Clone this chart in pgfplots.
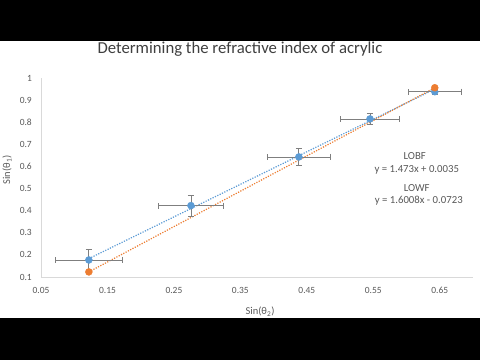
\documentclass[border=0pt]{standalone}
\usepackage{fontspec}
\setmainfont{Carlito}
\usepackage{pgfplots}
\pgfplotsset{compat=1.18}
\definecolor{txt}{HTML}{595959}
\definecolor{ttl}{HTML}{404040}
\definecolor{axl}{HTML}{D9D9D9}
\definecolor{blu}{HTML}{5B9BD5}
\definecolor{org}{HTML}{ED7D31}
\definecolor{errc}{HTML}{7F7F7F}
\begin{document}
\begin{tikzpicture}
\useasboundingbox (-41bp,-83bp) rectangle (439bp,277bp);
\fill[black] (-41bp,236bp) rectangle (439bp,277bp);
\fill[white] (-41bp,-41bp) rectangle (439bp,236bp);
\fill[black] (-41bp,-83bp) rectangle (439bp,-41bp);
\begin{axis}[
  at={(0pt,0pt)}, anchor=south west,
  scale only axis, width=432bp, height=199bp,
  xmin=0.05, xmax=0.70, ymin=0.1, ymax=1.0,
  axis x line*=bottom, axis y line*=left,
  axis line style={draw=axl, line width=0.75bp},
  major tick length=0pt,
  xtick={0.05,0.15,0.25,0.35,0.45,0.55,0.65},
  xticklabels={0.05,0.15,0.25,0.35,0.45,0.55,0.65},
  ytick={0.1,0.2,0.3,0.4,0.5,0.6,0.7,0.8,0.9,1},
  yticklabels={0.1,0.2,0.3,0.4,0.5,0.6,0.7,0.8,0.9,1},
  /pgf/number format/assume math mode=true,
  tick label style={font=\fontsize{9.5}{11}\selectfont, text=txt, inner sep=0pt},
  xticklabel style={anchor=north, yshift=-10bp},
  yticklabel style={anchor=east, xshift=-9bp},
  title={Determining the refractive index of acrylic},
  title style={font=\fontsize{16.8}{19}\selectfont, text=ttl, anchor=center, at={(axis description cs:0.4606,1.1156)}},
  xlabel={Sin(θ\textsubscript{2})},
  xlabel style={font=\fontsize{10.5}{12}\selectfont, text=txt, anchor=center, at={(axis description cs:0.507,-0.174)}},
  ylabel={Sin(θ\textsubscript{1})},
  ylabel style={font=\fontsize{10.5}{12}\selectfont, text=txt, anchor=center, at={(axis description cs:-0.0787,0.538)}},
  clip=false,
]
% trendline (LOBF) of blue series
\addplot[blu, line width=1.2bp, dash pattern=on 1.2bp off 1.4bp] coordinates {(0.122,0.1832) (0.6425,0.9499)};
% worst fit line (LOWF)
\addplot[org, line width=1.2bp, dash pattern=on 1.2bp off 1.4bp] coordinates {(0.122,0.123) (0.6425,0.956)};
% blue data with error bars
\addplot[only marks, mark=*, mark size=3.5bp, blu, mark options={fill=blu, draw=blu},
  error bars/.cd, x dir=both, x explicit, y dir=both, y explicit,
  error bar style={draw=errc, line width=0.8bp},
  error mark options={rotate=90, draw=errc, fill=errc, mark size=3bp, line width=0.8bp}]
  table[x=x, y=y, x error=ex, y error=ey] {
x y ex ey
0.122 0.177 0.051 0.050
0.2756 0.423 0.049 0.047
0.438 0.643 0.047 0.039
0.545 0.815 0.044 0.027
0.6425 0.938 0.040 0.010
};
% orange data
\addplot[only marks, mark=*, mark size=3.5bp, org, mark options={fill=org, draw=org}]
  table[x=x, y=y] {
x y
0.122 0.123
0.6425 0.956
};
\node[text=txt, font=\fontsize{10.8}{12}\selectfont, inner sep=0pt] at (axis cs:0.6124,0.6475) {LOBF};
\node[text=txt, font=\fontsize{10.8}{12}\selectfont, inner sep=0pt] at (axis cs:0.6154,0.584) {y = 1.473x + 0.0035};
\node[text=txt, font=\fontsize{10.8}{12}\selectfont, inner sep=0pt] at (axis cs:0.6154,0.5027) {LOWF};
\node[text=txt, font=\fontsize{10.8}{12}\selectfont, inner sep=0pt] at (axis cs:0.6184,0.444) {y = 1.6008x - 0.0723};
\end{axis}
\end{tikzpicture}
\end{document}
